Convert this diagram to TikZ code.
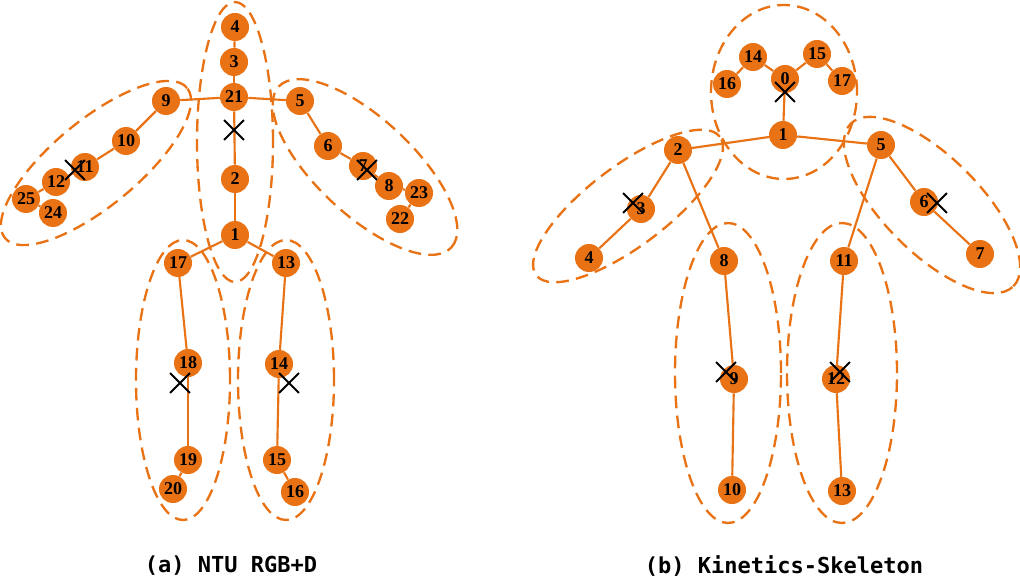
\documentclass[tikz,border=0pt]{standalone}
\usepackage{fontspec}
\newfontfamily\numfont{Liberation Serif}
\newfontfamily\capfont{DejaVu Sans Mono}
\usetikzlibrary{shapes.misc}
\definecolor{orng}{RGB}{232,114,20}
\begin{document}
\begin{tikzpicture}[x=0.75pt,y=0.75pt,
  jt/.style={circle,fill=orng,inner sep=0pt,minimum size=21pt,
    font=\numfont\bfseries\fontsize{13.5}{13.5}\selectfont},
  bone/.style={draw=orng,line width=1.6pt},
  grp/.style={draw=orng,line width=1.75pt,dash pattern=on 9.5pt off 5.5pt},
  xmk/.style={cross out,draw=black,line width=1.4pt,inner sep=0pt,minimum size=13.5pt},
  captxt/.style={font=\capfont\bfseries\fontsize{16.5}{16.5}\selectfont}]
\useasboundingbox (0,0) rectangle (1020,-581);

% ---------- groups (a)
\draw[grp] (235,-142) ellipse [x radius=38, y radius=140];
\draw[grp, rotate around={39.5:(96,-163)}] (96,-163) ellipse [x radius=118, y radius=43];
\draw[grp, rotate around={-43:(365,-167)}] (365,-167) ellipse [x radius=118, y radius=48];
\draw[grp] (183,-380) ellipse [x radius=47, y radius=140];
\draw[grp] (286,-380) ellipse [x radius=48, y radius=140];

% ---------- groups (b)
\draw[grp] (784,-92) ellipse [x radius=73, y radius=87];
\draw[grp, rotate around={37:(628,-206)}] (628,-206) ellipse [x radius=115, y radius=40];
\draw[grp, rotate around={-45:(932,-205)}] (932,-205) ellipse [x radius=115, y radius=48];
\draw[grp] (728,-373) ellipse [x radius=53, y radius=150];
\draw[grp] (842,-373) ellipse [x radius=55, y radius=150];

% ---------- joints (a)
\node[jt] (a4)  at (235,-27)  {4};
\node[jt] (a3)  at (234,-62)  {3};
\node[jt] (a21) at (234,-97)  {21};
\node[jt] (a9)  at (166,-101) {9};
\node[jt] (a5)  at (300,-101) {5};
\node[jt] (a10) at (126,-141) {10};
\node[jt] (a11) at (85,-167)  {11};
\node[jt] (a12) at (56,-182)  {12};
\node[jt] (a25) at (26,-199)  {25};
\node[jt] (a24) at (53,-213)  {24};
\node[jt] (a6)  at (328,-146) {6};
\node[jt] (a7)  at (363,-166) {7};
\node[jt] (a8)  at (389,-186) {8};
\node[jt] (a23) at (419,-193) {23};
\node[jt] (a22) at (400,-219) {22};
\node[jt] (a2)  at (235,-179) {2};
\node[jt] (a1)  at (235,-235) {1};
\node[jt] (a17) at (178,-263) {17};
\node[jt] (a13) at (286,-263) {13};
\node[jt] (a18) at (188,-363) {18};
\node[jt] (a14) at (279,-364) {14};
\node[jt] (a19) at (188,-460) {19};
\node[jt] (a15) at (277,-460) {15};
\node[jt] (a20) at (173,-489) {20};
\node[jt] (a16) at (295,-492) {16};

\foreach \u/\v in {a4/a3,a3/a21,a21/a9,a21/a5,a9/a10,a10/a11,a11/a12,a12/a25,a25/a24,
  a5/a6,a6/a7,a7/a8,a8/a23,a23/a22,a21/a2,a2/a1,a1/a17,a1/a13,a17/a18,a18/a19,a19/a20,
  a13/a14,a14/a15,a15/a16}
  \draw[bone] (\u) -- (\v);

% ---------- joints (b)
\node[jt] (b14) at (753,-57)  {14};
\node[jt] (b15) at (817,-54)  {15};
\node[jt] (b16) at (727,-84)  {16};
\node[jt] (b0)  at (785,-79)  {0};
\node[jt] (b17) at (842,-81)  {17};
\node[jt] (b1)  at (783,-135) {1};
\node[jt] (b2)  at (678,-150) {2};
\node[jt] (b5)  at (881,-145) {5};
\node[jt] (b3)  at (641,-209) {3};
\node[jt] (b4)  at (589,-258) {4};
\node[jt] (b6)  at (924,-202) {6};
\node[jt] (b7)  at (980,-254) {7};
\node[jt] (b8)  at (724,-261) {8};
\node[jt] (b11) at (844,-261) {11};
\node[jt] (b9)  at (734,-379) {9};
\node[jt] (b12) at (836,-379) {12};
\node[jt] (b10) at (732,-490) {10};
\node[jt] (b13) at (842,-491) {13};

\foreach \u/\v in {b16/b14,b14/b0,b0/b15,b15/b17,b0/b1,b1/b2,b1/b5,b2/b3,b3/b4,b2/b8,
  b5/b6,b6/b7,b5/b11,b8/b9,b9/b10,b11/b12,b12/b13}
  \draw[bone] (\u) -- (\v);

% ---------- centre marks
\node[xmk] (xa1) at (234,-130) {};
\node[xmk] (xa2) at (75,-170)  {};
\node[xmk] (xa3) at (367,-170) {};
\node[xmk] (xa4) at (180,-383) {};
\node[xmk] (xa5) at (289,-383) {};
\node[xmk] (xb1) at (785,-92)  {};
\node[xmk] (xb2) at (633,-203) {};
\node[xmk] (xb3) at (937,-203) {};
\node[xmk] (xb4) at (726,-372) {};
\node[xmk] (xb5) at (840,-372) {};

% ---------- captions
\node[captxt] (capa) at (231,-566) {(a) NTU RGB+D};
\node[captxt] (capb) at (784,-566) {(b) Kinetics-Skeleton};
\end{tikzpicture}
\end{document}
